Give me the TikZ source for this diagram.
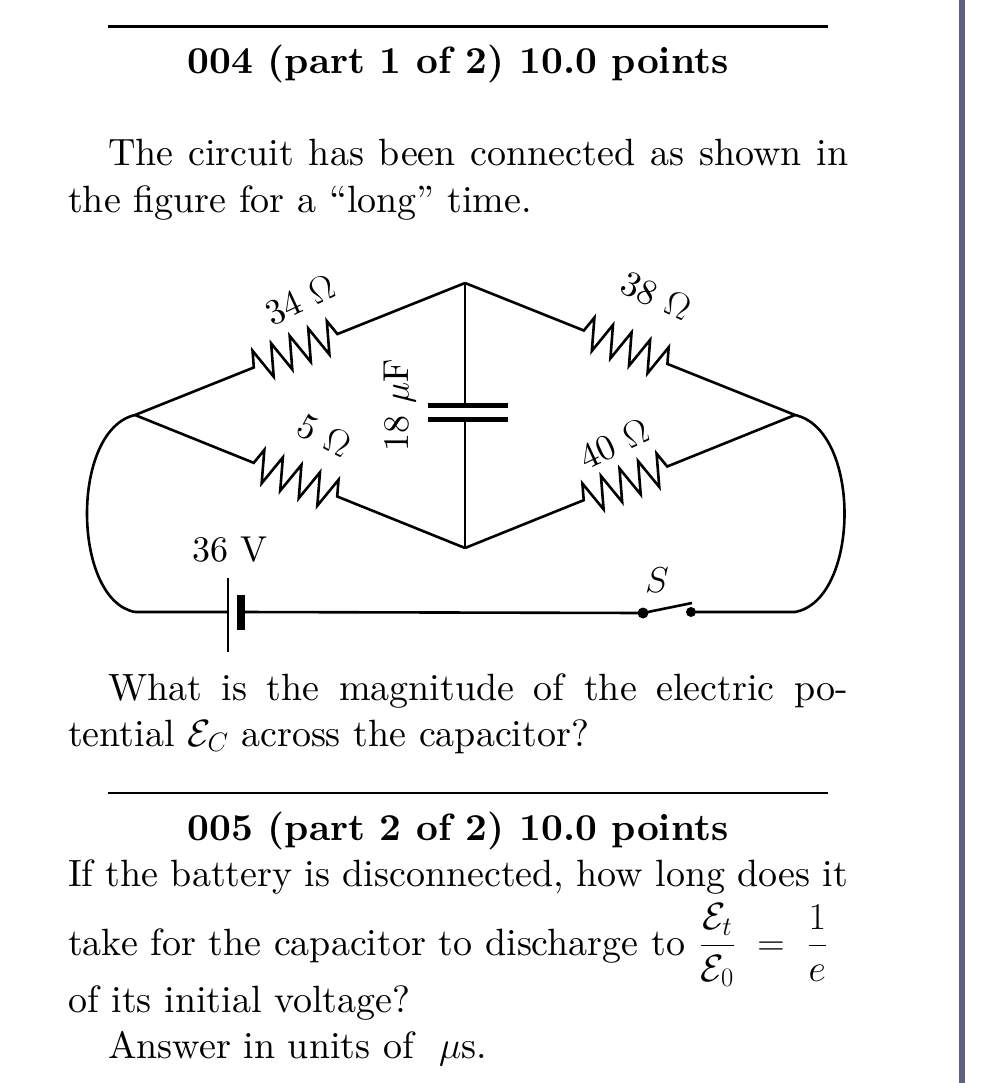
\RequirePackage{fix-cm}
\documentclass[tikz,border=0pt]{standalone}
\usepackage{fontspec}
\setmainfont{lmroman10-regular.otf}[BoldFont=lmroman10-bold.otf,ItalicFont=lmroman10-italic.otf]
\usetikzlibrary{decorations.pathmorphing}
\begin{document}
\begin{tikzpicture}[x=1pt,y=-1pt,
  txt/.style={anchor=base west,inner sep=0pt,font=\fontsize{38}{44}\selectfont},
  wire/.style={line width=2.6pt},
  res/.style={wire,decorate,decoration={zigzag,segment length=20,amplitude=16,pre length=#1,post length=#1}},
  lbl/.style={inner sep=0pt,font=\fontsize{36}{38}\selectfont}]
\useasboundingbox (0,0) rectangle (981,1083);
\fill[white] (0,0) rectangle (981,1083);
\fill[gray!60!blue!40!black!70] (959,0) rectangle (965,1083);
\coordinate (r1a) at (108,27); \coordinate (r1b) at (828,27);
\draw[line width=3pt] (r1a) -- (r1b);
\node[inner sep=0pt,anchor=base,font=\fontsize{38}{44}\selectfont\bfseries] (h1) at (458,74) {004 (part 1 of 2) 10.0 points};
\node[txt] (p1) at (108,166) {\makebox[740pt][s]{The circuit has been connected as shown in}};
\node[txt] (p2) at (68,213) {the figure for a ``long'' time.};
% circuit
\coordinate (L) at (135,415); \coordinate (T) at (465,283);
\coordinate (B) at (465,548); \coordinate (R) at (795,415);
\coordinate (BL) at (135,612); \coordinate (BR) at (795,612);
\draw[res=128] (L) -- (T);
\draw[res=128] (L) -- (B);
\draw[res=128] (T) -- (R);
\draw[res=128] (B) -- (R);
\coordinate (c1) at (465,405); \coordinate (c2) at (465,419);
\draw[line width=1.4pt] (T) -- (c1) (c2) -- (B);
\draw[line width=5pt] (428,405) -- (508,405) (428,419) -- (508,419);
\draw[wire] (L) .. controls (70,430) and (72,600) .. (BL);
\draw[wire] (R) .. controls (862,430) and (860,600) .. (BR);
\coordinate (bat1) at (228,612); \coordinate (bat2) at (241,612);
\coordinate (s1) at (643,613); \coordinate (s2) at (691,612);
\draw[wire] (BL) -- (bat1) (bat2) -- (s1) (s2) -- (BR);
\draw[line width=1.6pt] (228,578) -- (228,652);
\draw[line width=8pt] (241,595) -- (241,630);
\fill (s1) circle (5.5); \fill (s2) circle (5);
\draw[wire] (s1) -- (692,603);
\node[lbl,rotate=25] (l34) at (300,300) {34 $\Omega$};
\node[lbl,rotate=-28] (l5) at (324,436) {5 $\Omega$};
\node[lbl,rotate=-25] (l38) at (656,296) {38 $\Omega$};
\node[lbl,rotate=25] (l40) at (614,444) {40 $\Omega$};
\node[lbl,rotate=90] (l18) at (400,405) {18 $\mu$F};
\node[lbl] (l36) at (230,550) {36 V};
\node[lbl] (lS) at (657,580) {$S$};
% question
\node[txt] (q1) at (108,700) {\makebox[740pt][s]{What is the magnitude of the electric po-}};
\node[txt] (q2) at (68,746) {tential $\mathcal{E}_C$ across the capacitor?};
\coordinate (r2a) at (108,793); \coordinate (r2b) at (828,793);
\draw[line width=1.5pt] (r2a) -- (r2b);
\node[inner sep=0pt,anchor=base,font=\fontsize{38}{44}\selectfont\bfseries] (h2) at (458,840) {005 (part 2 of 2) 10.0 points};
\node[txt] (t1) at (68,886) {\makebox[780pt][s]{If the battery is disconnected, how long does it}};
\node[txt] (t2) at (68,955) {take for the capacitor to discharge to\ \hspace{2pt}$\displaystyle\frac{\mathcal{E}_t}{\mathcal{E}_0}\hspace{12pt}=\hspace{12pt}\frac{1}{e}$};
\node[txt] (t3) at (68,1012) {of its initial voltage?};
\node[txt] (t4) at (108,1058) {Answer in units of \ $\mu$s.};
\end{tikzpicture}
\end{document}
